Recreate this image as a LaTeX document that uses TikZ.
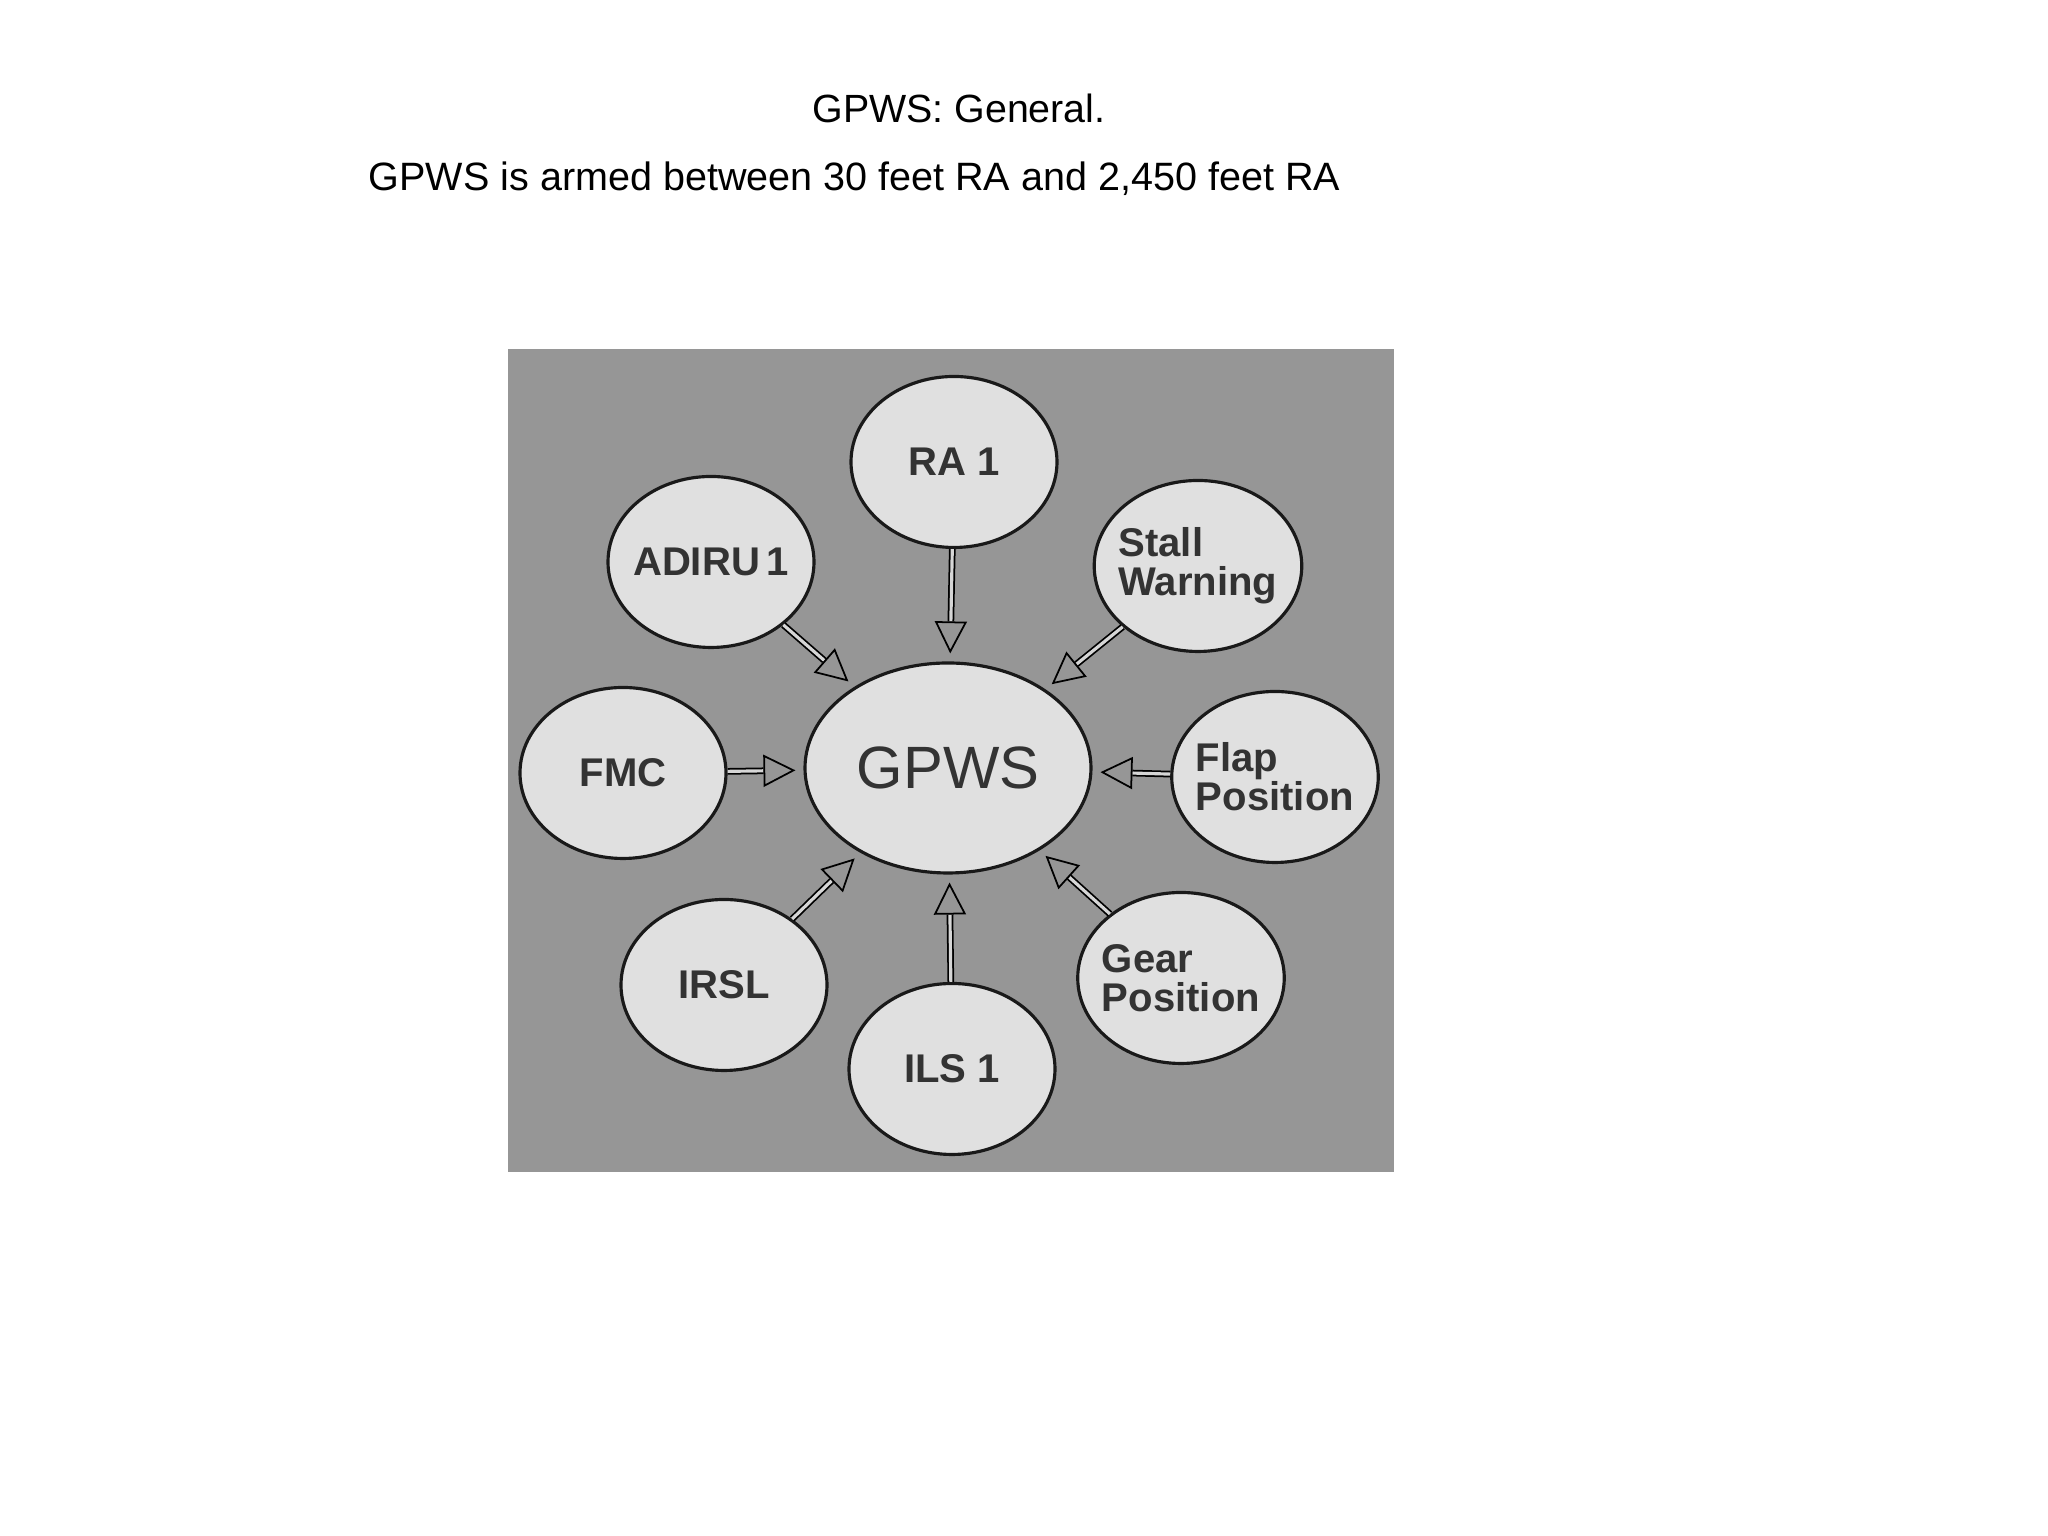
\documentclass[tikz,border=0pt]{standalone}
\usepackage{fontspec}
\setmainfont{Liberation Sans}
\usetikzlibrary{shapes.geometric, arrows.meta, decorations.markings}

\definecolor{panel}{HTML}{969696}
\definecolor{bubble}{HTML}{E0E0E0}
\definecolor{ink}{HTML}{333333}
\definecolor{gap}{HTML}{D6D6D6}

\begin{document}
\begin{tikzpicture}[
    unit/.style={ellipse, draw=black!90, line width=0.9pt, fill=bubble, text=ink,
      inner xsep=-0.06cm, inner ysep=0pt, minimum width=2.06cm, minimum height=1.71cm,
      font=\fontsize{11.4}{11.2}\selectfont\bfseries, align=left},
    feed/.style={double=gap, double distance=0.9pt, line width=0.5pt, shorten >=0.40cm,
      postaction={decorate, decoration={markings,
        mark=at position -0.08cm with {\arrow[line width=0.5pt]{Triangle[open, length=0.32cm, width=0.32cm]}}}}}
  ]
        \useasboundingbox (0,0) rectangle (20.48,15.36);
        \fill[panel] (5.08,3.64) rectangle (13.94,11.87);

        \node[anchor=base, font=\fontsize{11.2}{13}\selectfont] (T) at (9.59,14.13) {GPWS: General.};
        \node[anchor=base west, inner sep=0pt, font=\fontsize{11.25}{13}\selectfont] (N) at (3.68,13.45)
          {GPWS is armed between 30 feet RA and 2,450 feet RA};

        \node[unit, minimum width=2.86cm, minimum height=2.10cm,
          font=\fontsize{17}{17}\selectfont] (G) at (9.48,7.68) {GPWS};

        \node[unit] (RA) at (9.54,10.74) {RA 1};
        \node[unit] (AD) at (7.11,9.74) {ADIRU\,1};
        \node[unit] (SW) at (11.98,9.70) {Stall\\Warning};
        \node[unit] (FMC) at (6.23,7.63) {FMC};
        \node[unit] (FP) at (12.75,7.59) {Flap\\Position};
        \node[unit] (IR) at (7.24,5.51) {IRSL};
        \node[unit] (ILS) at (9.52,4.67) {ILS 1};
        \node[unit] (GP) at (11.81,5.58) {Gear\\Position};

        \foreach \s in {RA,AD,SW,FMC,FP,IR,ILS,GP}
          \draw[feed] (\s) -- (G);
      \end{tikzpicture}
\end{document}
